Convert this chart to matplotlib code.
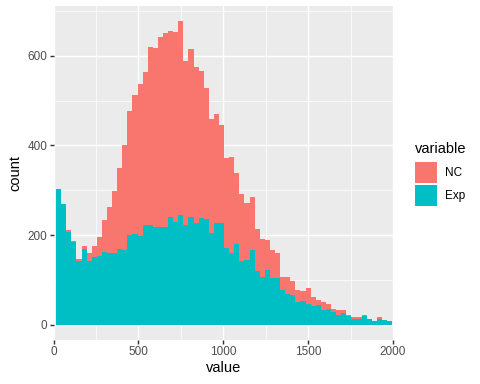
import numpy as np
import matplotlib
matplotlib.use('Agg')
import matplotlib.pyplot as plt
from matplotlib.patches import Rectangle

## bin settings (binwidth 30, first visible bin 15-45)
bin_width = 30
bin_centers = np.arange(30, 1981, 30)

## counts
exp_counts = [303, 270, 208, 185, 142, 169, 142, 151, 153, 162,
              160, 160, 169, 167, 200, 203, 199, 223, 223, 217,
              217, 217, 241, 230, 245, 223, 241, 226, 238, 236,
              205, 226, 226, 171, 160, 180, 142, 144, 167, 120,
              106, 122, 104, 104, 77, 68, 66, 50, 53, 46,
              41, 44, 32, 35, 28, 23, 26, 19, 12, 12,
              19, 12, 8, 12, 10, 8]
nc_counts = [0, 0, 4, 2, 5, 7, 18, 25, 43, 72,
             103, 139, 181, 233, 276, 309, 337, 340, 396, 400,
             425, 433, 414, 423, 432, 365, 374, 348, 327, 291,
             255, 245, 219, 200, 215, 159, 150, 128, 118, 94,
             85, 67, 63, 56, 29, 38, 31, 27, 22, 36,
             21, 11, 18, 11, 7, 9, 6, 4, 5, 5,
             2, 0, 0, 5, 0, 0]

legend_labels = ['NC', 'Exp']
colors = {'NC': '#F8766D', 'Exp': '#00BFC4'}

plt.rcParams['font.family'] = ['Liberation Sans', 'DejaVu Sans']

W, H = 480, 384
fig = plt.figure(figsize=(5, 4), dpi=96)
ax = fig.add_axes([53.5 / W, 1 - 340 / H, (393 - 53.5) / W, (340 - 6) / H])
ax.set_facecolor('#EBEBEB')

## stacked bars: Exp at bottom, NC on top
ax.bar(bin_centers, exp_counts, width=bin_width, color=colors['Exp'], linewidth=0, zorder=3)
ax.bar(bin_centers, nc_counts, width=bin_width, bottom=exp_counts, color=colors['NC'], linewidth=0, zorder=3)

total = np.array(exp_counts) + np.array(nc_counts)
ymax = total.max()
ax.set_xlim(0, 2000)
ax.set_ylim(-0.05 * ymax, ymax * 1.05)

ax.set_xticks([0, 500, 1000, 1500, 2000])
ax.set_xticks([250, 750, 1250, 1750], minor=True)
ax.set_yticks([0, 200, 400, 600])
ax.set_yticks([100, 300, 500, 700], minor=True)

ax.grid(which='major', color='white', linewidth=1.07, zorder=1)
ax.grid(which='minor', color='white', linewidth=0.53, zorder=1)
ax.set_axisbelow(True)

for s in ax.spines.values():
    s.set_visible(False)

ax.tick_params(which='major', length=2.75, width=1.07, color='#333333',
               labelsize=8.8, labelcolor='#4D4D4D', pad=2)
ax.tick_params(which='minor', length=0)

ax.set_xlabel('value', fontsize=11, labelpad=2)
ax.set_ylabel('count', fontsize=11, labelpad=4)

## legend drawn by hand (ggplot style keys)
fig.text(415 / W, 1 - 153.3 / H, 'variable', fontsize=11, va='baseline', ha='left')
key_top = 162
for i, lab in enumerate(legend_labels):
    y0 = key_top + i * 23
    fig.add_artist(Rectangle((415 / W, 1 - (y0 + 21) / H), 22 / W, 21 / H,
                             transform=fig.transFigure, facecolor=colors[lab],
                             edgecolor='none'))
    fig.text(445 / W, 1 - (y0 + 10.5) / H, lab, fontsize=8.8, va='center', ha='left')

fig.savefig('out.png', dpi=96)
